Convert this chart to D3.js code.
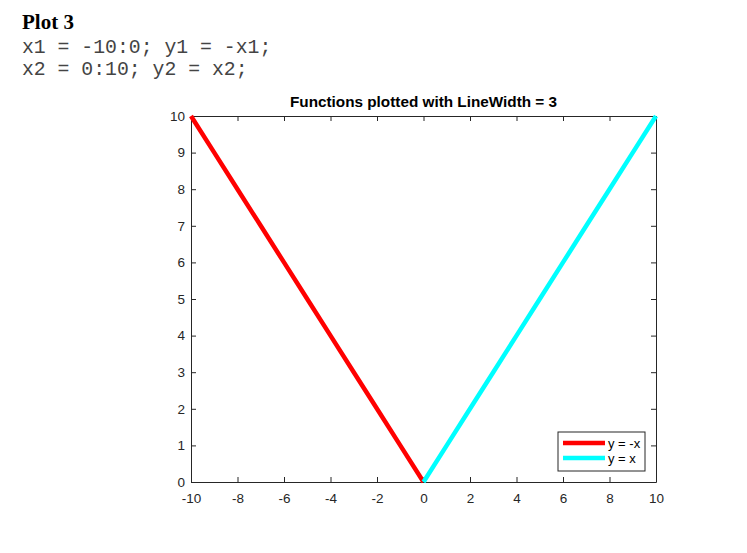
<!DOCTYPE html>
<html>
<head>
<meta charset="utf-8">
<script src="https://cdn.jsdelivr.net/npm/d3@7"></script>
<style>
  body { margin: 0; background: #fff; }
</style>
</head>
<body>
<div id="chart"></div>
<script>
// Data
const x1 = [-10, -9, -8, -7, -6, -5, -4, -3, -2, -1, 0];
const y1 = [10, 9, 8, 7, 6, 5, 4, 3, 2, 1, 0];
const x2 = [0, 1, 2, 3, 4, 5, 6, 7, 8, 9, 10];
const y2 = [0, 1, 2, 3, 4, 5, 6, 7, 8, 9, 10];
const xTicks = [-10, -8, -6, -4, -2, 0, 2, 4, 6, 8, 10];
const yTicks = [0, 1, 2, 3, 4, 5, 6, 7, 8, 9, 10];
const seriesNames = ["y = -x", "y = x"];
const seriesColors = ["#ff0000", "#00ffff"];

const W = 747, H = 553;
const margin = { left: 191, top: 116, right: W - 656, bottom: H - 482 };
const width = W - margin.left - margin.right;
const height = H - margin.top - margin.bottom;

const svg = d3.select("#chart")
    .append("svg")
    .attr("width", W)
    .attr("height", H);

// Header text (document heading + code)
svg.append("text")
    .attr("x", 22)
    .attr("y", 29)
    .style("font-family", "'Liberation Serif', 'DejaVu Serif', serif")
    .style("font-weight", "bold")
    .style("font-size", "21px")
    .text("Plot 3");

const code = ["x1 = -10:0; y1 = -x1;", "x2 = 0:10; y2 = x2;"];
svg.selectAll("text.code")
    .data(code)
    .enter()
    .append("text")
    .attr("class", "code")
    .attr("x", 22)
    .attr("y", (d, i) => 53 + i * 22)
    .attr("xml:space", "preserve")
    .style("font-family", "'Liberation Mono', 'DejaVu Sans Mono', monospace")
    .style("font-size", "19.8px")
    .style("fill", "#444")
    .text(d => d);

const g = svg.append("g")
    .attr("transform", `translate(${margin.left}, ${margin.top})`);

// Scales
const x = d3.scaleLinear().domain([-10, 10]).range([0, width]);
const y = d3.scaleLinear().domain([0, 10]).range([height, 0]);

// Axes (ticks pointing inward, box all round)
const axisColor = "#262626";
const fmt = d => String(d);  // plain hyphen minus, like MATLAB
function styleAxis(sel) {
    sel.select(".domain").attr("stroke", axisColor);
    sel.selectAll(".tick line").attr("stroke", axisColor);
    sel.selectAll(".tick text")
        .attr("fill", axisColor)
        .style("font-family", "Arial, 'Liberation Sans', sans-serif")
        .style("font-size", "13.5px");
}

g.append("g")
    .attr("transform", `translate(0, ${height})`)
    .call(d3.axisBottom(x).tickValues(xTicks).tickFormat(fmt).tickSize(-5).tickPadding(11).tickSizeOuter(0))
    .call(styleAxis);

g.append("g")
    .call(d3.axisTop(x).tickValues(xTicks).tickSize(-5).tickFormat("").tickSizeOuter(0))
    .call(styleAxis);

g.append("g")
    .call(d3.axisLeft(y).tickValues(yTicks).tickFormat(fmt).tickSize(-5).tickPadding(6).tickSizeOuter(0))
    .call(styleAxis);

g.append("g")
    .attr("transform", `translate(${width}, 0)`)
    .call(d3.axisRight(y).tickValues(yTicks).tickSize(-5).tickFormat("").tickSizeOuter(0))
    .call(styleAxis);

// Title
g.append("text")
    .attr("x", width / 2)
    .attr("y", -9)
    .attr("text-anchor", "middle")
    .style("font-family", "Arial, 'Liberation Sans', sans-serif")
    .style("font-weight", "bold")
    .style("font-size", "15.3px")
    .style("fill", "#000")
    .text("Functions plotted with LineWidth = 3");

// Lines
const line = d3.line()
    .x(d => x(d[0]))
    .y(d => y(d[1]));

const series = [
    x1.map((v, i) => [v, y1[i]]),
    x2.map((v, i) => [v, y2[i]])
];

g.selectAll("path.series")
    .data(series)
    .enter()
    .append("path")
    .attr("class", "series")
    .attr("d", line)
    .attr("fill", "none")
    .attr("stroke", (d, i) => seriesColors[i])
    .attr("stroke-width", 4.5);

// Legend
const lx = 558 - margin.left, ly = 432 - margin.top;
const legend = g.append("g").attr("transform", `translate(${lx}, ${ly})`);
legend.append("rect")
    .attr("width", 87)
    .attr("height", 39)
    .attr("fill", "#fff")
    .attr("stroke", "#262626")
    .attr("stroke-width", 1);

legend.selectAll("line")
    .data(seriesNames)
    .enter()
    .append("line")
    .attr("x1", 5)
    .attr("x2", 47)
    .attr("y1", (d, i) => 11 + i * 15)
    .attr("y2", (d, i) => 11 + i * 15)
    .attr("stroke", (d, i) => seriesColors[i])
    .attr("stroke-width", 4.5);

legend.selectAll("text")
    .data(seriesNames)
    .enter()
    .append("text")
    .attr("x", 50)
    .attr("y", (d, i) => 15.5 + i * 15)
    .style("font-family", "Arial, 'Liberation Sans', sans-serif")
    .style("font-size", "13px")
    .style("fill", "#000")
    .text(d => d);
</script>
</body>
</html>
